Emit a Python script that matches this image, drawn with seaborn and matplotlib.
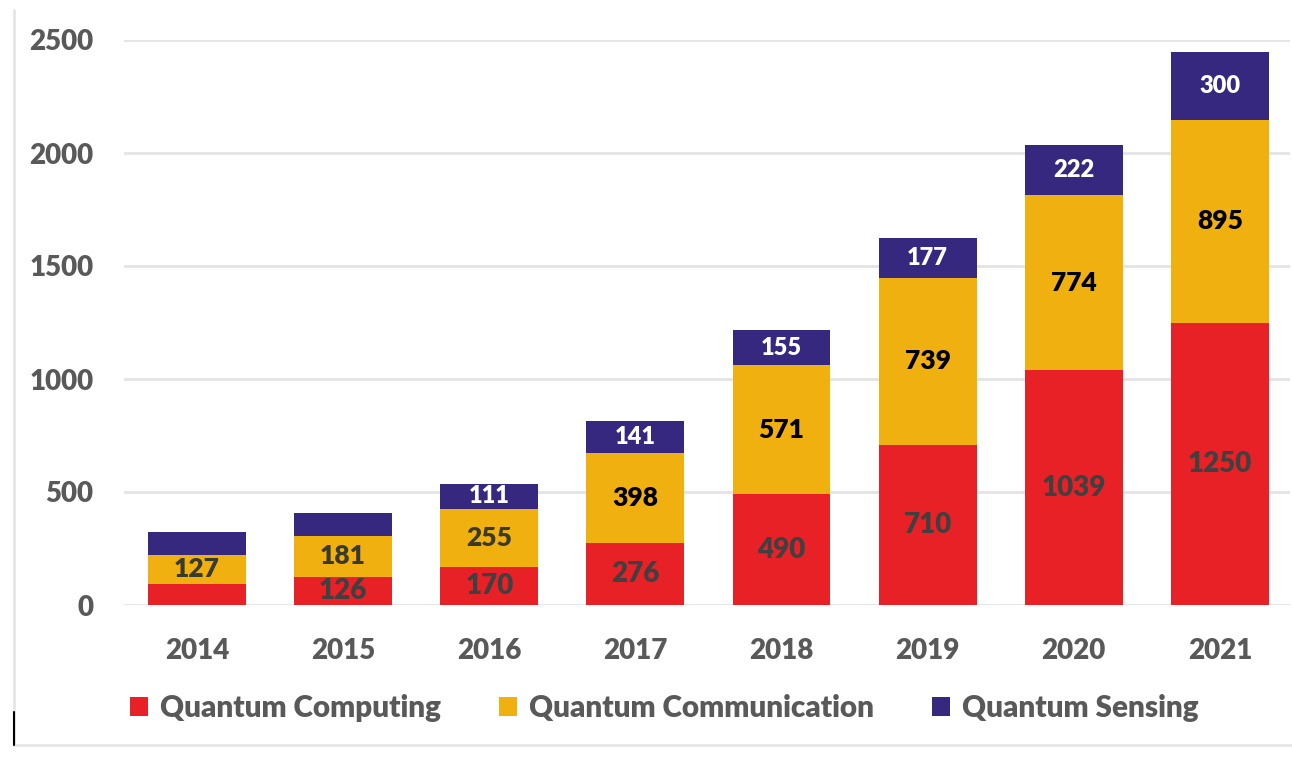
import numpy as np
import pandas as pd
import matplotlib
matplotlib.use("Agg")
import matplotlib.pyplot as plt
import seaborn as sns
from matplotlib.patches import Patch
from matplotlib.lines import Line2D

# ---- data ----
years = ["2014", "2015", "2016", "2017", "2018", "2019", "2020", "2021"]
computing = [95, 126, 170, 276, 490, 710, 1039, 1250]
communication = [127, 181, 255, 398, 571, 739, 774, 895]
sensing = [100, 100, 111, 141, 155, 177, 222, 300]

# labels shown in the reference (None = not printed)
computing_labels = [None, 126, 170, 276, 490, 710, 1039, 1250]
communication_labels = [127, 181, 255, 398, 571, 739, 774, 895]
sensing_labels = [None, None, 111, 141, 155, 177, 222, 300]

series_names = ["Quantum Computing", "Quantum Communication", "Quantum Sensing"]
colors = ["#E82127", "#F0B00F", "#35287E"]
yticks = [0, 500, 1000, 1500, 2000, 2500]

df = pd.DataFrame({
    "year": years,
    "computing": computing,
    "communication": communication,
    "sensing": sensing,
})
df["top_comm"] = df["computing"] + df["communication"]
df["total"] = df["top_comm"] + df["sensing"]

sns.set_style("white")
FONT = ["Lato", "DejaVu Sans"]
W = 800  # heavy weight, closest to the blurred bold of the original
plt.rcParams["font.family"] = FONT
plt.rcParams["font.weight"] = W

fig = plt.figure(figsize=(12.92, 7.66), dpi=100)
ax = fig.add_axes([124 / 1292, 1 - 605 / 766, 1166 / 1292, 565 / 766])

# stacked bars drawn as layered cumulative bars
bw = 0.67
sns.barplot(data=df, x="year", y="total", color=colors[2], width=bw, saturation=1,
            linewidth=0, edgecolor="none", ax=ax, zorder=3)
sns.barplot(data=df, x="year", y="top_comm", color=colors[1], width=bw, saturation=1,
            linewidth=0, edgecolor="none", ax=ax, zorder=4)
sns.barplot(data=df, x="year", y="computing", color=colors[0], width=bw, saturation=1,
            linewidth=0, edgecolor="none", ax=ax, zorder=5)

ax.set_ylim(0, 2500)
ax.set_xlim(-0.5, 7.48)
ax.set_yticks(yticks, labels=[str(v) for v in yticks], fontweight=W)
ax.set_xticks(range(len(years)), labels=years, fontweight=W)
ax.grid(axis="y", color="#E4E4E4", linewidth=2, zorder=0)
ax.set_axisbelow(True)
for s in ax.spines.values():
    s.set_visible(False)
ax.set_xlabel("")
ax.set_ylabel("")
ax.tick_params(axis="both", length=0, labelsize=20, labelcolor="#595959")
ax.tick_params(axis="y", pad=22)
ax.tick_params(axis="x", pad=24)

# segment labels
for i in range(len(years)):
    c, m, s = computing[i], communication[i], sensing[i]
    if computing_labels[i] is not None:
        ax.text(i, c / 2, str(computing_labels[i]), ha="center", va="center",
                fontsize=20, color="#404040", fontweight=W, zorder=10)
    if communication_labels[i] is not None:
        col = "#3A3A2A" if i < 3 else "black"
        ax.text(i, c + m / 2, str(communication_labels[i]), ha="center", va="center",
                fontsize=19, color=col, fontweight=W, zorder=10)
    if sensing_labels[i] is not None:
        ax.text(i, c + m + s / 2, str(sensing_labels[i]), ha="center", va="center",
                fontsize=17, color="white", fontweight=W, zorder=10)

# legend
handles = [Patch(facecolor=col, edgecolor="none") for col in colors]
fig.legend(handles, series_names, loc="center left", bbox_to_anchor=(130 / 1292, 1 - 708 / 766),
           ncol=3, frameon=False, labelcolor="#595959", borderpad=0, borderaxespad=0,
           handlelength=0.62, handleheight=0.62, handletextpad=0.4, columnspacing=1.95,
           prop={"family": FONT, "weight": W, "size": 21.3})

# frame remnants of the cropped screenshot
fig.add_artist(Line2D([14 / 1292, 14 / 1292], [1 - 10 / 766, 1 - 745 / 766], color="#E6E6E6", lw=2))
fig.add_artist(Line2D([14 / 1292, 1.0], [1 - 745 / 766, 1 - 745 / 766], color="#E6E6E6", lw=2))
fig.add_artist(Line2D([14 / 1292, 14 / 1292], [1 - 712 / 766, 1 - 745 / 766], color="black", lw=1.5))

fig.savefig("out.png", dpi=100)
